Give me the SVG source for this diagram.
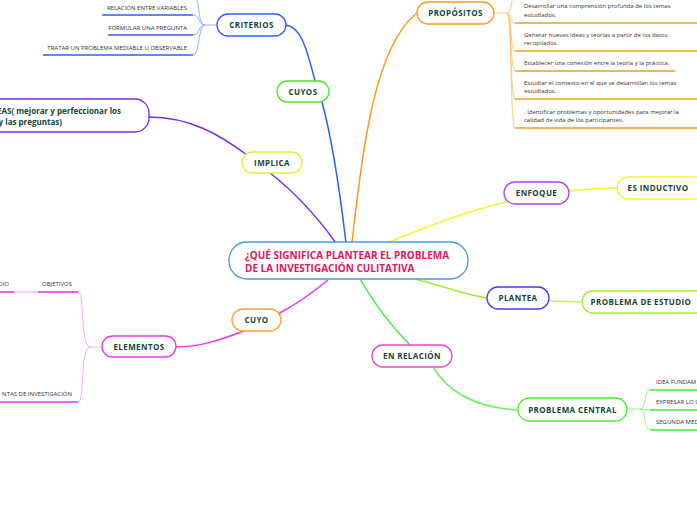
<svg xmlns="http://www.w3.org/2000/svg" width="697" height="520" viewBox="0 0 697 520">
<style>
.n{fill:#fff;stroke-width:1.3}
.lbl{font-family:"Open Sans","Noto Sans","DejaVu Sans",sans-serif;font-weight:bold;font-size:8px;fill:#17453a;text-anchor:middle;letter-spacing:0.4px}
.idea{font-family:"Open Sans","Noto Sans","DejaVu Sans",sans-serif;font-weight:bold;font-size:8px;fill:#17453a;text-anchor:end}
.sm{font-family:"Open Sans","Noto Sans","DejaVu Sans",sans-serif;font-size:6px;fill:#333}
.tx{font-family:"Open Sans","Noto Sans","DejaVu Sans",sans-serif;font-size:6px;fill:#333}
.ct{font-family:"Open Sans","Noto Sans","DejaVu Sans",sans-serif;font-weight:bold;font-size:10px;fill:#e8145c}
.c{fill:none;stroke-width:1.5}
.t{fill:none;stroke-width:0.9}
.u{stroke-width:1.6}
</style>
<rect width="697" height="520" fill="#fff"/>
<g id="connectors">
<path class="c" stroke="#7a2cf0" d="M336,243 Q305,200 270,173"/>
<path class="c" stroke="#7a2cf0" d="M149,117 C190,117 220,135 247,155"/>
<path class="c" stroke="#2f5ff5" d="M346,243 Q335,150 322,102"/>
<path class="c" stroke="#2f5ff5" d="M286,25 C300,27 306,45 315,81"/>
<path class="c" stroke="#ff9a1a" d="M352,243 C362,150 375,45 417,13"/>
<path class="c" stroke="#f5f530" d="M390,242 C430,225 470,210 507,202"/>
<path class="c" stroke="#f5f530" d="M569,191 C590,189 600,188 617,188"/>
<path class="c" stroke="#9ef030" d="M415,279 C440,285 465,295 487,298"/>
<path class="c" stroke="#c0f070" d="M549,301 L582,302"/>
<path class="c" stroke="#3ee83a" d="M360,279 C375,305 395,330 410,345"/>
<path class="c" stroke="#6af060" d="M433,367 C450,395 480,408 518,410"/>
<path class="c" stroke="#ee33ee" d="M328,280 C310,295 295,305 278,314"/>
<path class="c" stroke="#ee33ee" d="M244,331 C220,340 200,347 176,347"/>
<g stroke="#8aa8ff">
<path class="t" d="M217,25 L205,25"/>
<path class="t" d="M205,25 C198,25 200,15 193,15"/>
<path class="t" d="M205,25 C198,25 200,35 193,35"/>
<path class="t" d="M205,25 C198,25 200,55 193,55"/>
<path class="t" d="M205,25 C198,25 200,5 196,-2"/>
</g>
<g stroke="#2f5ff5">
<line class="u" x1="102" y1="15" x2="193" y2="15"/>
<line class="u" x1="108" y1="35" x2="193" y2="35"/>
<line class="u" x1="43" y1="55" x2="193" y2="55"/>
</g>
<g stroke="#ffc470">
<path class="t" d="M494,13 L507,13"/>
<path class="t" d="M507,13 C512,13 510,23 515,23"/>
<path class="t" d="M507,13 C512,13 510,51 515,51"/>
<path class="t" d="M507,13 C512,13 510,71 515,71"/>
<path class="t" d="M507,13 C512,13 510,99 515,99"/>
<path class="t" d="M507,13 C512,13 510,128 515,128"/>
<path class="t" d="M507,13 C512,13 510,4 513,-2"/>
</g>
<g stroke="#ff9a1a">
<line class="u" x1="515" y1="23" x2="697" y2="23"/>
<line class="u" x1="515" y1="51" x2="697" y2="51"/>
<line class="u" x1="515" y1="71" x2="675" y2="71"/>
<line class="u" x1="515" y1="99" x2="697" y2="99"/>
<line class="u" x1="515" y1="128" x2="697" y2="128"/>
</g>
<g stroke="#ff9cff">
<path class="t" d="M102,347 L90,347"/>
<path class="t" d="M90,347 C80,347 85,292 78,292 L14,292"/>
<path class="t" d="M90,347 C80,347 85,402 78,402"/>
</g>
<g stroke="#ee33ee">
<line class="u" x1="38" y1="292" x2="78" y2="292"/>
<line class="u" x1="-2" y1="292" x2="14" y2="292"/>
<line class="u" x1="-2" y1="402" x2="78" y2="402"/>
</g>
<g stroke="#8af080">
<path class="t" d="M627,409 L640,409"/>
<path class="t" d="M640,409 C646,409 644,390 650,390"/>
<path class="t" d="M640,409 L650,410"/>
<path class="t" d="M640,409 C646,409 644,430 650,430"/>
</g>
<g stroke="#3ee83a">
<line class="u" x1="650" y1="390" x2="697" y2="390"/>
<line class="u" x1="650" y1="410" x2="697" y2="410"/>
<line class="u" x1="650" y1="430" x2="697" y2="430"/>
</g>
</g>
<g id="center">
<rect class="n" x="229" y="242" width="239" height="37" rx="18" stroke="#4a9ad8"/>
<text class="ct" x="245" y="259">¿QUÉ SIGNIFICA PLANTEAR EL PROBLEMA</text>
<text class="ct" x="245" y="272">DE LA INVESTIGACIÓN CULITATIVA</text>
</g>
<g id="criterios">
<rect class="n" x="217" y="14" width="69" height="22" rx="11" stroke="#2f5ff5"/>
<text class="lbl" x="251.5" y="28">CRITERIOS</text>
</g>
<g id="criterios-items">
<text class="sm" x="187" y="10" text-anchor="end">RELACIÓN ENTRE VARIABLES</text>
<text class="sm" x="187" y="30" text-anchor="end">FORMULAR UNA PREGUNTA</text>
<text class="sm" x="187" y="50" text-anchor="end">TRATAR UN PROBLEMA MEDIABLE U OBSERVABLE</text>
</g>
<g id="cuyos">
<rect class="n" x="277" y="81" width="52" height="21" rx="10.5" stroke="#55e030"/>
<text class="lbl" x="303" y="94.5">CUYOS</text>
</g>
<g id="implica">
<rect class="n" x="242" y="152" width="60" height="21" rx="10.5" stroke="#dcf030"/>
<text class="lbl" x="272" y="165.5">IMPLICA</text>
</g>
<g id="ideas">
<rect class="n" x="-20" y="99" width="169" height="33" rx="14" stroke="#7a2cf0"/>
<text class="idea" x="121" y="114">EAS( mejorar y perfeccionar los</text>
<text class="idea" x="62" y="125">y las preguntas)</text>
</g>
<g id="propositos">
<rect class="n" x="417" y="2" width="77" height="22" rx="11" stroke="#ff9a1a"/>
<text class="lbl" x="455.5" y="16">PROPÓSITOS</text>
</g>
<g id="propositos-items">
<text class="tx" x="524" y="8"> Desarrollar una comprensión profunda de los temas</text>
<text class="tx" x="524" y="17">estudiados.</text>
<text class="tx" x="524" y="37"> Generar nuevas ideas y teorías a partir de los datos</text>
<text class="tx" x="524" y="45">recopilados.</text>
<text class="tx" x="524" y="65">Establecer una conexión entre la teoría y la práctica.</text>
<text class="tx" x="524" y="85">Estudiar el contexto en el que se desarrollan los temas</text>
<text class="tx" x="524" y="93">estudiados.</text>
<text class="tx" x="524" y="114">. Identificar problemas y oportunidades para mejorar la</text>
<text class="tx" x="524" y="122">calidad de vida de los participantes.</text>
</g>
<g id="enfoque">
<rect class="n" x="504" y="182" width="65" height="22" rx="11" stroke="#b040e8"/>
<text class="lbl" x="536.5" y="196">ENFOQUE</text>
</g>
<g id="inductivo">
<rect class="n" x="617" y="177" width="90" height="22" rx="11" stroke="#f5f530"/>
<text class="lbl" x="658" y="191">ES INDUCTIVO</text>
</g>
<g id="plantea">
<rect class="n" x="487" y="287" width="62" height="22" rx="11" stroke="#5533ee"/>
<text class="lbl" x="518" y="301">PLANTEA</text>
</g>
<g id="estudio">
<rect class="n" x="582" y="291" width="125" height="22" rx="11" stroke="#9ef030"/>
<text class="lbl" x="641" y="305">PROBLEMA DE ESTUDIO</text>
</g>
<g id="cuyo">
<rect class="n" x="232" y="309" width="49" height="22" rx="11" stroke="#ffa030"/>
<text class="lbl" x="256.5" y="323">CUYO</text>
</g>
<g id="elementos">
<rect class="n" x="102" y="336" width="74" height="21" rx="10.5" stroke="#ee33ee"/>
<text class="lbl" x="139" y="349.5">ELEMENTOS</text>
</g>
<g id="elementos-items">
<text class="sm" x="9" y="286" text-anchor="end">DIO</text>
<text class="sm" x="72" y="286" text-anchor="end">OBJETIVOS</text>
<text class="sm" x="72" y="396" text-anchor="end">NTAS DE INVESTIGACIÓN</text>
</g>
<g id="enrelacion">
<rect class="n" x="372" y="345" width="80" height="22" rx="11" stroke="#ee44cc"/>
<text class="lbl" x="412" y="359">EN RELACIÓN</text>
</g>
<g id="central">
<rect class="n" x="518" y="398" width="109" height="23" rx="11.5" stroke="#44ee22"/>
<text class="lbl" x="572.5" y="412.5">PROBLEMA CENTRAL</text>
</g>
<g id="central-items">
<text class="sm" x="656" y="384">IDEA FUNDAM</text>
<text class="sm" x="656" y="404">EXPRESAR LO C</text>
<text class="sm" x="656" y="424">SEGUNDA MED</text>
</g>
</svg>
